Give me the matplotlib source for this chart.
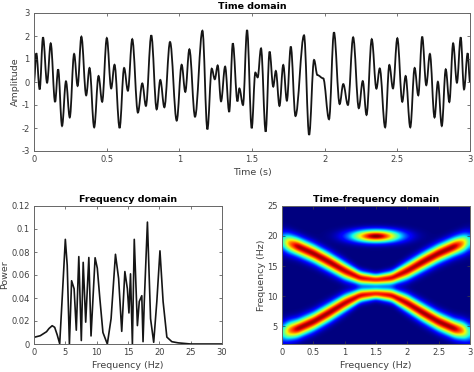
import numpy as np
import matplotlib
matplotlib.use("Agg")
import matplotlib.pyplot as plt
from matplotlib.path import Path
from matplotlib.patches import PathPatch

# time domain: extrema
time_t = [0, .016, .039, .062, .09, .115, .145, .166, .193, .22, .246, .276, .30, .326, .359, .382, .414,
          .444, .469, .501, .531, .554, .589, .62, .646, .676, .715, .745, .77, .807, .844, .869, .897,
          .936, .982, 1.016, 1.041, 1.069, 1.108, 1.159, 1.193, 1.223, 1.244, 1.264, 1.287, 1.315, 1.343,
          1.368, 1.40, 1.413, 1.438, 1.466, 1.498, 1.523, 1.539, 1.562, 1.594, 1.621, 1.646, 1.664, 1.689,
          1.715, 1.74, 1.767, 1.799, 1.858, 1.893, 1.927, 1.95, 1.99, 2.03, 2.064, 2.103, 2.128, 2.16,
          2.196, 2.235, 2.262, 2.288, 2.324, 2.356, 2.379, 2.416, 2.445, 2.47, 2.5, 2.534, 2.557, 2.589,
          2.619, 2.644, 2.671, 2.699, 2.724, 2.756, 2.779, 2.806, 2.833, 2.858, 2.884, 2.91, 2.936, 2.959,
          2.984, 3.0]
time_y = [0, 1.25, -.32, 1.94, -.03, 1.68, -.87, .55, -1.91, .03, -1.54, 1.22, -.17, 1.97, -.58, .61, -1.97,
          .26, -.86, 1.91, -.28, .75, -2.0, .61, -.38, 1.86, -1.33, -.06, -1.04, 2.03, -1.19, .09, -1.1,
          1.74, -1.68, .75, -.43, 1.42, -1.51, 2.23, -2.06, .58, .12, .72, -.84, .67, -1.3,
          1.68, -.84, -.28, -1.0, 2.26, -2.01, .41, .2, 1.46, -2.16, 1.32, -.2, .48, -1.04,
          .74, -.81, 1.54, -1.48, 2.03, -2.3, .96, .3, .16, -1.62, 2.16, -.96, -.09, -1.0,
          1.94, -1.14, .04, -1.43, 1.86, -.29, .59, -1.97, .74, -.28, 1.9, -.86, .26, -1.97,
          .61, -.58, 1.97, -.14, 1.22, -1.54, .01, -1.91, .55, -.87, 1.68, -.03, 1.94, -.32,
          1.25, 0]

# frequency domain
freq_hz = [0, 1, 2, 2.4, 2.9, 3.3, 3.7, 4.1, 4.5, 5.0, 5.3, 5.65, 6.0, 6.4, 6.75, 7.15, 7.55, 7.85, 8.25, 8.75, 9.1,
           9.75, 10.1, 10.5, 11, 11.7, 12.3, 13, 13.5, 14, 14.5, 14.9, 15.15, 15.4, 15.7, 16.0, 16.5, 16.8, 17.2,
           17.4, 17.6, 18.1, 18.6, 19.1, 19.6, 20.1, 20.6, 21.2, 22, 23, 25, 30]
freq_power = [.0058, .0072, .0107, .0135, .0159, .0145, .008, .0003, .04, .091, .0685, 0, .055, .048, .012, .076, .003,
              .071, .019, .0752, .007, .075, .066, .04, .01, 0, .022, .078, .057, .011, .063, .048, .027, .061,
              0, .091, .016, .037, .042, .002, .037, .106, .022, .0015, .037, .081, .037, .006, .002, .001,
              0, 0]

# time-frequency ridges
ridge_t = [0, .1, .24, .5, .75, 1.0, 1.25, 1.5, 1.75, 2.0, 2.25, 2.5, 2.76, 2.9, 3.0]
ridge_low = [3.9, 4.2, 4.5, 5.7, 7.2, 8.8, 10.1, 10.4, 10.1, 8.8, 7.2, 5.7, 4.5, 4.2, 3.9]
ridge_high = [19.1, 18.8, 18.3, 17.1, 15.7, 14.2, 13.0, 12.7, 13.0, 14.2, 15.7, 17.1, 18.3, 18.8, 19.1]
ridge_amp = [.35, .75, .97, .97, .97, .95, .92, .88, .92, .95, .97, .97, .97, .75, .35]
ridge_width = [1.1, 1.05, 1.0, 1.0, 1.0, .95, .72, .6, .72, .95, 1.0, 1.0, 1.0, 1.05, 1.1]
blob_t, blob_f, blob_st, blob_sf = 1.5, 20.0, .27, .72

INK = "#404040"
XTICKS = [0, .5, 1, 1.5, 2, 2.5, 3]
XTICKLABELS = ["0", "0.5", "1", "1.5", "2", "2.5", "3"]

plt.rcParams["font.family"] = "DejaVu Sans"
plt.rcParams["axes.unicode_minus"] = False
plt.rcParams["axes.edgecolor"] = "#666666"
plt.rcParams["axes.linewidth"] = 0.7
plt.rcParams["text.color"] = INK
plt.rcParams["axes.labelcolor"] = INK
plt.rcParams["xtick.color"] = INK
plt.rcParams["ytick.color"] = INK

W, H = 474, 372
fig = plt.figure(figsize=(W / 100, H / 100), dpi=100)


def add_ax(left, top, right, bottom):
    return fig.add_axes([left / W, 1 - bottom / H, (right - left) / W, (bottom - top) / H])


def style(ax, title, xlabel, ylabel, ylabel_x):
    ax.set_title(title, fontsize=6.8, fontweight="bold", color="black", pad=3)
    ax.set_xlabel(xlabel, fontsize=6.8, labelpad=3)
    ax.tick_params(direction="in", top=True, right=True, length=2, width=0.5, pad=3, labelsize=6)
    # y label sits at a fixed pixel column, whatever the tick label width
    pos = ax.get_position()
    fig.text(ylabel_x / W, (pos.y0 + pos.y1) / 2, ylabel, rotation=90, ha="center", va="center", fontsize=6.8, color=INK)


def smooth(values, n=25):
    kernel = np.hanning(n)
    kernel = kernel / kernel.sum()
    return np.convolve(np.pad(values, n, mode="edge"), kernel, mode="same")[n:-n]


ax1 = add_ax(34, 13, 470, 151)
verts = [(time_t[0], time_y[0])]
codes = [Path.MOVETO]
for i in range(1, len(time_t)):
    handle = (time_t[i] - time_t[i - 1]) * 0.36
    verts += [(time_t[i - 1] + handle, time_y[i - 1]), (time_t[i] - handle, time_y[i]), (time_t[i], time_y[i])]
    codes += [Path.CURVE4] * 3
ax1.add_patch(PathPatch(Path(verts, codes), fill=False, edgecolor="#151515", lw=1.3))
ax1.set_xlim(0, 3)
ax1.set_ylim(-3, 3)
ax1.set_xticks(XTICKS, XTICKLABELS)
style(ax1, "Time domain", "Time (s)", "Amplitude", 15)

ax2 = add_ax(34, 206, 222, 344)
ax2.plot(freq_hz, freq_power, color="#151515", lw=1.2)
ax2.set_xlim(0, 30)
ax2.set_ylim(0, .12)
ax2.set_yticks([0, .02, .04, .06, .08, .1, .12], ["0", "0.02", "0.04", "0.06", "0.08", "0.1", "0.12"])
style(ax2, "Frequency domain", "Frequency (Hz)", "Power", 4.5)

ax3 = add_ax(282, 206, 470, 344)
tt = np.linspace(0, 3, 400)
ff = np.linspace(2, 25, 300)
T, F = np.meshgrid(tt, ff)
amp = smooth(np.interp(tt, ridge_t, ridge_amp))
width = smooth(np.interp(tt, ridge_t, ridge_width))
tf = np.exp(-((T - blob_t) / blob_st) ** 2 / 2 - ((F - blob_f) / blob_sf) ** 2 / 2)
for ridge in (ridge_low, ridge_high):
    r = smooth(np.interp(tt, ridge_t, ridge))
    tf = tf + amp * np.exp(-((F - r) / width) ** 2 / 2)
ax3.imshow(tf, origin="lower", extent=[0, 3, 2, 25], aspect="auto", cmap="jet", vmin=0, vmax=1, interpolation="bilinear")
ax3.set_xticks(XTICKS, XTICKLABELS)
ax3.set_yticks([5, 10, 15, 20, 25])
style(ax3, "Time-frequency domain", "Frequency (Hz)", "Frequency (Hz)", 261)

fig.savefig("out.png", dpi=100)
